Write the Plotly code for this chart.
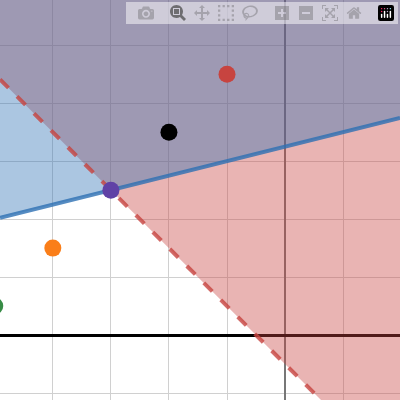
import numpy as np
import plotly.graph_objects as go

# points
pt_x = [-1, -2, -3, -4, -5]
pt_y = [4.5, 3.5, 2.5, 1.5, 0.5]
pt_colors = ["#c74440", "#000000", "#6042a6", "#fa7e19", "#388c46"]

# lines y = m x + b
blue_m, blue_b = 0.25, 3.25
red_m, red_b = -1.0, -0.5

X_RANGE = [-4.91, 1.98]
Y_RANGE = [-1.12, 5.78]

fig = go.Figure()

xs = np.array(X_RANGE)
top = Y_RANGE[1] + 1

by = blue_m * xs + blue_b
ry = red_m * xs + red_b

# red region: above red line
fig.add_trace(go.Scatter(x=[xs[0], xs[1], xs[1], xs[0]], y=[ry[0], ry[1], top, top],
                         fill="toself", fillcolor="rgba(199,68,64,0.4)",
                         line=dict(width=0), mode="lines", hoverinfo="skip"))
# blue region: above blue line
fig.add_trace(go.Scatter(x=[xs[0], xs[1], xs[1], xs[0]], y=[by[0], by[1], top, top],
                         fill="toself", fillcolor="rgba(45,112,179,0.4)",
                         line=dict(width=0), mode="lines", hoverinfo="skip"))

fig.add_trace(go.Scatter(x=xs, y=ry, mode="lines",
                         line=dict(color="#c74440", width=4, dash="dash"), opacity=0.8))
fig.add_trace(go.Scatter(x=xs, y=by, mode="lines",
                         line=dict(color="#2d70b3", width=4), opacity=0.8))

fig.add_trace(go.Scatter(x=pt_x, y=pt_y, mode="markers",
                         marker=dict(color=pt_colors, size=17)))

fig.update_layout(
    width=400, height=400, margin=dict(l=0, r=0, t=0, b=0),
    showlegend=False, plot_bgcolor="white", paper_bgcolor="white",
    xaxis=dict(range=X_RANGE, dtick=1, showticklabels=False, gridcolor="#d0d0d0",
               zeroline=True, zerolinecolor="#777777", zerolinewidth=1.5),
    yaxis=dict(range=Y_RANGE, dtick=1, showticklabels=False, gridcolor="#d0d0d0",
               zeroline=True, zerolinecolor="#000000", zerolinewidth=2.5),
)

fig.write_html("out.html", post_script="document.body.style.margin='0';")
